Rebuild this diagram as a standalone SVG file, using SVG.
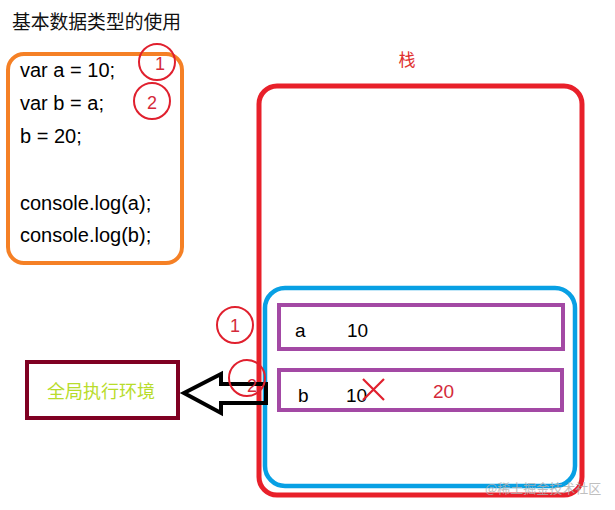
<svg xmlns="http://www.w3.org/2000/svg" width="615" height="510" viewBox="0 0 615 510">
<style>
.code{font-family:"Liberation Sans",Arial,sans-serif;font-size:20px;fill:#000}
.cjk{font-family:"Noto Sans CJK SC","Noto Sans",sans-serif}
.circ{fill:none;stroke:#E0202E;stroke-width:2}
.num{font-family:"Liberation Sans",Arial,sans-serif;font-size:18px;fill:#D42A3A;text-anchor:middle}
.slot{fill:none;stroke:#A349A4;stroke-width:4}
.val{font-family:"Liberation Sans",Arial,sans-serif;font-size:19px;fill:#000}
.red{fill:#D42A3A}
</style>
<rect width="615" height="510" fill="#fff"/>
<g id="title"><text class="cjk" x="12" y="29" font-size="18.8" fill="#111">基本数据类型的使用</text></g>
<g id="code">
<rect x="8" y="54" width="174" height="209" rx="16" fill="none" stroke="#F58025" stroke-width="4"/>
<text class="code" x="20" y="77">var a = 10;</text>
<text class="code" x="20" y="110">var b = a;</text>
<text class="code" x="20" y="143">b = 20;</text>
<text class="code" x="20" y="210">console.log(a);</text>
<text class="code" x="20" y="242">console.log(b);</text>
</g>
<g id="mark1"><circle class="circ" cx="157" cy="62" r="18"/><text class="num" x="160" y="70">1</text></g>
<g id="mark2"><circle class="circ" cx="152" cy="101" r="18"/><text class="num" x="152" y="109">2</text></g>
<g id="stack">
<text class="cjk" x="407" y="66" font-size="17" fill="#E0302E" text-anchor="middle">栈</text>
<rect x="259" y="86" width="323" height="409" rx="18" fill="none" stroke="#E8202A" stroke-width="5"/>
</g>
<g id="env">
<rect x="265" y="288" width="310" height="198" rx="20" fill="none" stroke="#08A0E4" stroke-width="4.5"/>
</g>
<g id="slotA">
<rect class="slot" x="279" y="305" width="284" height="44"/>
<text class="val" x="295" y="337">a</text>
<text class="val" x="347" y="337">10</text>
</g>
<g id="slotB">
<rect class="slot" x="279" y="370" width="283" height="40"/>
<text class="val" x="298" y="402">b</text>
<text class="val" x="346" y="402">10</text>
<path d="M363 379 L384 400 M384 379 L363 400" stroke="#E0202E" stroke-width="2.2" fill="none"/>
<text class="val red" x="433" y="398">20</text>
</g>
<g id="mark3"><circle class="circ" cx="235" cy="325" r="18"/><text class="num" x="235" y="332">1</text></g>
<g id="global">
<rect x="27" y="362" width="151" height="56" fill="none" stroke="#7F0022" stroke-width="4"/>
<text class="cjk" x="101" y="398" font-size="18" fill="#B8DC2A" text-anchor="middle">全局执行环境</text>
</g>
<g id="connectors">
<polygon points="184,393 221,374 221,384 266,384 266,403 221,403 221,413" fill="none" stroke="#000" stroke-width="4" stroke-linejoin="miter"/>
</g>
<g id="mark4"><circle class="circ" cx="247" cy="378" r="18"/><text class="num" x="252" y="392" font-size="17">2</text></g>
<g id="watermark"><text class="cjk" x="485" y="493" font-size="13" fill="#B0B0B0" opacity="0.8">@稀土掘金技术社区</text></g>
</svg>
